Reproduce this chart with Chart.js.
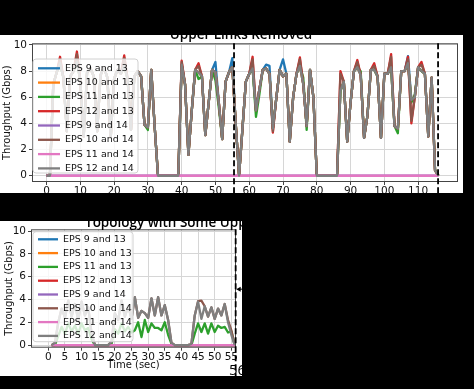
<!DOCTYPE html>
<html>
<head>
<meta charset="utf-8">
<script src="https://cdn.jsdelivr.net/npm/chart.js@4.4.0/dist/chart.umd.min.js"></script>
<style>
  body { margin: 0; width: 474px; height: 389px; background: #000; position: relative; overflow: hidden; }
  .panel { position: absolute; background: #fff; overflow: hidden; z-index: 1; }
  #topPanel { left: 0; top: 35px; width: 463px; height: 158px; }
  #bottomPanel { left: 0; top: 221px; width: 242px; height: 155px; }
  .title { position: absolute; z-index: 2; font-family: 'Open Sans'; font-weight: 600; font-size: 13.5px; line-height: 13px; color: #000; white-space: nowrap; }
  #topTitle { left: 0; width: 482px; text-align: center; top: 28px; }
  #bottomTitle { left: 85px; top: 216px; }
  #cover { position: absolute; z-index: 3; left: 0; top: 0; width: 474px; height: 35px; background: #000; }
  #slideNum { position: absolute; z-index: 2; left: 229px; top: 141px; font-family: 'Open Sans'; font-size: 15px; line-height: 15px; color: #000; }
</style>
</head>
<body>
<div id="cover"></div>
<div class="title" id="topTitle">Upper Links Removed</div>
<div class="title" id="bottomTitle">Topology with Some Upper Links Removed</div>
<div class="panel" id="topPanel"><canvas id="topChart" width="463" height="158"></canvas></div>
<div class="panel" id="bottomPanel"><canvas id="bottomChart" width="242" height="155"></canvas><div id="slideNum">56</div></div>
<script>
// legend labels and colours (matplotlib tab10 order)
const seriesLabels = ['EPS 9 and 13', 'EPS 10 and 13', 'EPS 11 and 13', 'EPS 12 and 13',
                      'EPS 9 and 14', 'EPS 10 and 14', 'EPS 11 and 14', 'EPS 12 and 14'];
const seriesColors = ['#1f77b4', '#ff7f0e', '#2ca02c', '#d62728', '#9467bd', '#8c564b', '#e377c2', '#7f7f7f'];

// ---- top chart: time (sec) ----
const topTimes = [
  0, 1, 2, 3, 4, 5, 6, 7, 8, 9,
  10, 11, 12, 13, 14, 15, 16, 17, 18, 19,
  20, 21, 22, 23, 24, 25, 26, 27, 28, 29,
  30, 31, 32, 33, 34, 35, 36, 37, 38, 39,
  40, 41, 42, 43, 44, 45, 46, 47, 48, 49,
  50, 51, 52, 53, 54, 55, 56, 57, 58, 59,
  60, 61, 62, 63, 64, 65, 66, 67, 68, 69,
  70, 71, 72, 73, 74, 75, 76, 77, 78, 79,
  80, 81, 82, 83, 84, 85, 86, 87, 88, 89,
  90, 91, 92, 93, 94, 95, 96, 97, 98, 99,
  100, 101, 102, 103, 104, 105, 106, 107, 108, 109,
  110, 111, 112, 113, 114, 115, 116
];
const topXTicks = [0, 10, 20, 30, 40, 50, 60, 70, 80, 90, 100, 110];
const yTicks = [0, 1, 2, 3, 4, 5, 6, 7, 8, 9, 10];
const topDashes = [55.5, 115.9];

const top9and13 = [
  0, 0, 7.0, 7.9, 8.6, 7.5, 3.4, 7.6, 8.0, 8.7,
  7.3, 3.0, 7.9, 8.2, 7.6, 3.4, 7.7, 8.3, 7.5, 2.9,
  7.4, 8.1, 7.8, 8.4, 7.4, 3.5, 7.6, 8.0, 7.6, 3.9,
  3.7, 8.1, 3.8, 0, 0, 0, 0, 0, 0, 0,
  8.5, 7.0, 1.6, 5.0, 8.1, 7.9, 7.6, 3.1, 5.6, 8.1,
  8.7, 5.6, 2.8, 7.2, 7.9, 9.0, 4.0, 0, 3.6, 7.2,
  7.8, 8.2, 5.0, 6.6, 8.1, 8.5, 8.4, 3.6, 5.9, 8.1,
  8.9, 7.8, 2.6, 6.0, 7.8, 8.4, 7.0, 3.8, 8.1, 6.0,
  0, 0, 0, 0, 0, 0, 0, 6.5, 7.2, 2.6,
  5.6, 8.0, 8.3, 7.7, 2.9, 4.6, 8.1, 8.1, 7.6, 2.9,
  7.8, 7.8, 8.3, 3.8, 3.6, 8.0, 8.0, 9.15, 5.8, 6.0,
  8.3, 8.0, 7.8, 3.0, 7.5, 0.4, 0
];
const top11and13 = [
  0, 0, 7.0, 7.9, 8.6, 7.5, 3.4, 7.6, 8.0, 8.7,
  7.3, 3.0, 7.9, 8.2, 7.6, 3.4, 7.7, 8.3, 7.5, 2.9,
  7.4, 8.1, 7.8, 8.4, 7.4, 3.5, 7.6, 8.0, 7.6, 3.9,
  3.5, 8.1, 3.8, 0, 0, 0, 0, 0, 0, 0,
  8.5, 7.0, 1.6, 5.0, 8.1, 7.4, 7.6, 3.1, 5.6, 8.1,
  7.3, 5.2, 2.8, 7.2, 7.9, 8.3, 4.0, 0, 3.6, 7.2,
  7.8, 8.2, 4.5, 6.2, 8.1, 8.2, 7.8, 3.6, 5.9, 8.1,
  7.6, 7.8, 2.6, 6.0, 7.8, 8.4, 7.5, 3.5, 8.1, 6.0,
  0, 0, 0, 0, 0, 0, 0, 6.5, 7.2, 2.6,
  5.6, 8.0, 8.3, 8.0, 2.9, 4.6, 8.1, 8.1, 7.6, 2.9,
  7.8, 7.8, 8.3, 3.8, 3.25, 8.0, 8.0, 8.6, 5.6, 6.2,
  8.3, 8.0, 7.8, 3.0, 7.5, 0.5, 0
];
const top12and13 = [
  0, 0, 7.0, 7.9, 9.1, 7.5, 3.4, 7.6, 8.0, 9.5,
  7.3, 3.0, 7.9, 8.2, 7.6, 3.4, 7.7, 8.3, 7.5, 2.9,
  7.4, 8.1, 7.8, 9.2, 7.4, 3.5, 7.6, 8.0, 7.6, 3.9,
  3.7, 8.1, 3.8, 0, 0, 0, 0, 0, 0, 0,
  8.8, 7.0, 1.6, 5.0, 8.1, 8.6, 7.6, 3.1, 5.6, 8.1,
  7.9, 5.6, 2.8, 7.2, 7.9, 8.3, 4.0, 0, 3.6, 7.2,
  7.8, 9.1, 5.0, 6.6, 8.1, 8.2, 7.8, 3.3, 5.9, 8.1,
  7.6, 7.8, 2.6, 6.0, 7.8, 9.05, 7.0, 3.8, 8.1, 6.0,
  0, 0, 0, 0, 0, 0, 0, 8.0, 7.2, 2.6,
  5.6, 8.0, 8.85, 7.7, 2.9, 4.6, 8.1, 8.6, 7.6, 2.9,
  7.8, 7.8, 9.3, 3.8, 3.6, 8.0, 8.0, 9.1, 4.0, 6.0,
  8.3, 8.7, 7.8, 3.0, 7.5, 0.4, 0
];
const top10and14 = [
  0, 0, 7.0, 7.9, 8.9, 7.5, 3.4, 7.6, 8.0, 9.3,
  7.3, 3.0, 7.9, 8.2, 7.6, 3.4, 7.7, 8.3, 7.5, 2.9,
  7.4, 8.1, 7.8, 9.0, 7.4, 3.5, 7.6, 8.0, 7.6, 3.9,
  3.7, 8.1, 3.8, 0, 0, 0, 0, 0, 0, 0,
  8.7, 7.0, 1.6, 5.0, 8.1, 8.4, 7.6, 3.1, 5.6, 8.1,
  7.9, 5.6, 2.8, 7.2, 7.9, 8.3, 4.0, 0, 3.6, 7.2,
  7.8, 8.9, 5.0, 6.6, 8.1, 8.2, 7.8, 3.4, 5.9, 8.1,
  7.6, 7.8, 2.6, 6.0, 7.8, 8.9, 7.0, 3.8, 8.1, 6.0,
  0, 0, 0, 0, 0, 0, 0, 7.8, 7.2, 2.6,
  5.6, 8.0, 8.7, 7.7, 2.9, 4.6, 8.1, 8.4, 7.6, 2.9,
  7.8, 7.8, 9.1, 3.8, 3.6, 8.0, 8.0, 8.9, 4.2, 6.0,
  8.3, 8.5, 7.8, 3.0, 7.5, 0.4, 0
];
// EPS 10 and 13 runs under EPS 12 and 14 the whole time
const top12and14 = [
  0, 0, 7.0, 7.9, 8.6, 7.5, 3.4, 7.6, 8.0, 8.7,
  7.3, 3.0, 7.9, 8.2, 7.6, 3.4, 7.7, 8.3, 7.5, 2.9,
  7.4, 8.1, 7.8, 8.4, 7.4, 3.5, 7.6, 8.0, 7.6, 3.9,
  3.7, 8.1, 3.8, 0, 0, 0, 0, 0, 0, 0,
  8.5, 7.0, 1.6, 5.0, 8.1, 7.9, 7.6, 3.1, 5.6, 8.1,
  7.9, 5.6, 2.8, 7.2, 7.9, 8.3, 4.0, 0, 3.6, 7.2,
  7.8, 8.2, 5.0, 6.6, 8.1, 8.2, 7.8, 3.6, 5.9, 8.1,
  7.6, 7.8, 2.6, 6.0, 7.8, 8.4, 7.0, 3.8, 8.1, 6.0,
  0, 0, 0, 0, 0, 0, 0, 6.5, 7.2, 2.6,
  5.6, 8.0, 8.3, 7.7, 2.9, 4.6, 8.1, 8.1, 7.6, 2.9,
  7.8, 7.8, 8.3, 3.8, 3.6, 8.0, 8.0, 8.6, 5.8, 6.0,
  8.3, 8.0, 7.8, 3.0, 7.5, 0.4, 0
];
// EPS 9 and 14 / 11 and 14 stay at zero
const topIdle = [
  0, 0, 0, 0, 0, 0, 0, 0, 0, 0,
  0, 0, 0, 0, 0, 0, 0, 0, 0, 0,
  0, 0, 0, 0, 0, 0, 0, 0, 0, 0,
  0, 0, 0, 0, 0, 0, 0, 0, 0, 0,
  0, 0, 0, 0, 0, 0, 0, 0, 0, 0,
  0, 0, 0, 0, 0, 0, 0, 0, 0, 0,
  0, 0, 0, 0, 0, 0, 0, 0, 0, 0,
  0, 0, 0, 0, 0, 0, 0, 0, 0, 0,
  0, 0, 0, 0, 0, 0, 0, 0, 0, 0,
  0, 0, 0, 0, 0, 0, 0, 0, 0, 0,
  0, 0, 0, 0, 0, 0, 0, 0, 0, 0,
  0, 0, 0, 0, 0, 0, 0
];

// ---- bottom chart ----
const bottomTimes = [
  1, 2, 3, 4, 5, 6, 7, 8, 9, 10,
  11, 12, 13, 14, 15, 16, 17, 18, 19, 20,
  21, 22, 23, 24, 25, 26, 27, 28, 29, 30,
  31, 32, 33, 34, 35, 36, 37, 38, 39, 40,
  41, 42, 43, 44, 45, 46, 47, 48, 49, 50,
  51, 52, 53, 54, 55, 56
];
const bottomXTicks = [0, 5, 10, 15, 20, 25, 30, 35, 40, 45, 50, 55];
const bottomDashes = [56.3];

const bottom11and13 = [
  0, 0, 0.8, 1.6, 1.0, 1.9, 1.2, 1.7, 1.0, 1.9,
  1.3, 1.5, 0.5, 0, 0, 0, 0, 0, 0.1, 1.4,
  1.0, 1.9, 1.2, 1.6, 1.1, 1.3, 2.0, 0.7, 2.2, 1.15,
  1.9, 1.5, 1.5, 1.3, 2.0, 0.9, 0.1, 0, 0, 0,
  0, 0, 0, 1.0, 1.9, 1.15, 1.9, 1.0, 1.9, 1.15,
  1.7, 1.5, 1.6, 1.1, 1.2, 0
];
const bottom10and14 = [
  0, 0.2, 2.0, 3.2, 2.4, 3.9, 2.5, 3.6, 2.2, 3.8,
  2.6, 3.3, 1.0, 0, 0, 0, 0, 0, 0.3, 2.8,
  2.2, 3.9, 2.5, 3.4, 2.3, 4.2, 2.4, 3.0, 2.8, 2.4,
  4.1, 2.6, 4.2, 2.6, 3.5, 2.2, 0.2, 0, 0, 0,
  0, 0, 0.1, 2.6, 3.85, 3.9, 3.4, 2.5, 3.3, 2.3,
  3.2, 2.6, 3.6, 2.2, 1.3, 0
];
const bottom12and14 = [
  0, 0.2, 2.0, 3.2, 2.4, 3.9, 2.5, 3.6, 2.2, 3.8,
  2.6, 3.3, 1.0, 0, 0, 0, 0, 0, 0.3, 2.8,
  2.2, 3.9, 2.5, 3.4, 2.3, 4.2, 2.4, 3.0, 2.8, 2.4,
  4.1, 2.6, 4.2, 2.6, 3.5, 2.2, 0.2, 0, 0, 0,
  0, 0, 0.1, 2.6, 3.8, 2.3, 3.4, 2.5, 3.3, 2.3,
  3.2, 2.6, 3.6, 2.0, 0.9, 0
];
const bottomIdle = [
  0, 0, 0, 0, 0, 0, 0, 0, 0, 0,
  0, 0, 0, 0, 0, 0, 0, 0, 0, 0,
  0, 0, 0, 0, 0, 0, 0, 0, 0, 0,
  0, 0, 0, 0, 0, 0, 0, 0, 0, 0,
  0, 0, 0, 0, 0, 0, 0, 0, 0, 0,
  0, 0, 0, 0, 0, 0
];

Chart.defaults.font.family = "'DejaVu Sans'";
Chart.defaults.color = '#111';

function makeDatasets(times, seriesList) {
  return seriesList.map((values, i) => ({
    label: seriesLabels[i],
    data: values.map((v, k) => ({ x: times[k], y: v })),
    borderColor: seriesColors[i],
    backgroundColor: seriesColors[i],
    borderWidth: 2.3,
    pointRadius: 0,
    tension: 0,
    borderJoinStyle: 'round',
    order: seriesList.length - 1 - i   // later series drawn on top, as in matplotlib
  }));
}

// frame, legend box and the slide's dashed markers
const overlay = {
  id: 'overlay',
  afterDatasetsDraw(chart, args, opts) {
    const ctx = chart.ctx;
    const a = chart.chartArea;
    const xs = chart.scales.x;
    ctx.save();
    ctx.strokeStyle = '#444';
    ctx.lineWidth = 1;
    ctx.strokeRect(a.left + 0.5, a.top + 0.5, a.right - a.left - 1, a.bottom - a.top - 1);

    const L = opts.legend;
    ctx.beginPath();
    ctx.roundRect(L.x, L.y, L.w, L.h, 3);
    ctx.fillStyle = 'rgba(255,255,255,0.8)';
    ctx.fill();
    ctx.strokeStyle = '#d0d0d0';
    ctx.stroke();
    ctx.font = "9.5px 'DejaVu Sans'";
    ctx.textBaseline = 'middle';
    chart.data.datasets.forEach((ds, i) => {
      const y = L.row0 + i * L.gap;
      ctx.strokeStyle = ds.borderColor;
      ctx.lineWidth = 2.3;
      ctx.beginPath();
      ctx.moveTo(L.h0, y);
      ctx.lineTo(L.h1, y);
      ctx.stroke();
      ctx.fillStyle = '#111';
      ctx.fillText(ds.label, L.tx, y);
    });

    ctx.setLineDash([6, 3]);
    ctx.strokeStyle = '#000';
    ctx.lineWidth = 1.8;
    opts.dashes.forEach(v => {
      const x = xs.getPixelForValue(v);
      ctx.beginPath();
      ctx.moveTo(x, a.top);
      ctx.lineTo(x, chart.height);
      ctx.stroke();
    });
    if (opts.arrowAt !== undefined) {
      const x = xs.getPixelForValue(opts.dashes[0]);
      const y = chart.scales.y.getPixelForValue(opts.arrowAt);
      ctx.setLineDash([]);
      ctx.fillStyle = '#000';
      ctx.beginPath();
      ctx.moveTo(x + 0.5, y);
      ctx.lineTo(x + 5, y - 2.5);
      ctx.lineTo(x + 5, y + 2.5);
      ctx.closePath();
      ctx.fill();
      ctx.lineWidth = 1;
      ctx.beginPath();
      ctx.moveTo(x + 4, y);
      ctx.lineTo(x + 10, y);
      ctx.stroke();
    }
    ctx.restore();
  }
};

function axes(cfg) {
  return {
    x: {
      type: 'linear', min: cfg.xMin, max: cfg.xMax,
      afterBuildTicks: s => { s.ticks = cfg.xTicks.map(v => ({ value: v })); },
      afterFit: s => { s.height = cfg.xHeight; },
      ticks: { font: { size: 10.5 }, padding: cfg.xPad, maxRotation: 0, autoSkip: false, color: '#111' },
      grid: { color: '#d6d6d6', lineWidth: 1, tickLength: 3, tickColor: '#444' },
      border: { display: false },
      title: cfg.xTitle ? { display: true, text: cfg.xTitle, font: { size: 10 }, color: '#111', padding: { top: 0, bottom: cfg.xTitlePad } } : { display: false }
    },
    y: {
      type: 'linear', min: cfg.yMin, max: cfg.yMax,
      afterBuildTicks: s => { s.ticks = yTicks.map(v => ({ value: v })); },
      afterFit: s => { s.width = cfg.yWidth; },
      ticks: { font: { size: 10.5 }, padding: 2, color: '#111' },
      grid: { color: '#d6d6d6', lineWidth: 1, tickLength: 3, tickColor: '#444' },
      border: { display: false },
      title: { display: true, text: 'Throughput (Gbps)', font: { size: 10 }, color: '#111', padding: { top: cfg.yTitlePad, bottom: 0 } }
    }
  };
}

new Chart(document.getElementById('topChart'), {
  type: 'line',
  data: {
    datasets: makeDatasets(topTimes, [top9and13, top12and14, top11and13, top12and13,
                                      topIdle, top10and14, topIdle, top12and14])
  },
  options: {
    responsive: false, animation: false, devicePixelRatio: 1,
    layout: { padding: { top: 8, right: 5, left: 0, bottom: 0 } },
    plugins: {
      legend: { display: false }, tooltip: { enabled: false },
      overlay: {
        legend: { x: 33, y: 24, w: 105, h: 114, row0: 33.3, gap: 14.3, h0: 38, h1: 60, tx: 65 },
        dashes: topDashes
      }
    },
    scales: axes({ xMin: -4.3, xMax: 121.8, xTicks: topXTicks, xHeight: 11, xPad: 0,
                   yMin: -0.48, yMax: 10.13, yWidth: 32, yTitlePad: 1 })
  },
  plugins: [overlay]
});

new Chart(document.getElementById('bottomChart'), {
  type: 'line',
  data: {
    datasets: makeDatasets(bottomTimes, [bottomIdle, bottomIdle, bottom11and13, bottomIdle,
                                         bottomIdle, bottom10and14, bottomIdle, bottom12and14])
  },
  options: {
    responsive: false, animation: false, devicePixelRatio: 1,
    layout: { padding: { top: 7, right: 6, left: 0, bottom: 0 } },
    plugins: {
      legend: { display: false }, tooltip: { enabled: false },
      overlay: {
        legend: { x: 33, y: 10.7, w: 100, h: 110, row0: 18.3, gap: 13.8, h0: 38, h1: 58, tx: 63 },
        dashes: bottomDashes,
        arrowAt: 4.9
      }
    },
    scales: axes({ xMin: -5.2, xMax: 56.4, xTicks: bottomXTicks, xHeight: 28.3, xPad: 0,
                   xTitle: 'Time (sec)', xTitlePad: 5,
                   yMin: -0.23, yMax: 10.15, yWidth: 31, yTitlePad: 3 })
  },
  plugins: [overlay]
});
</script>
</body>
</html>
